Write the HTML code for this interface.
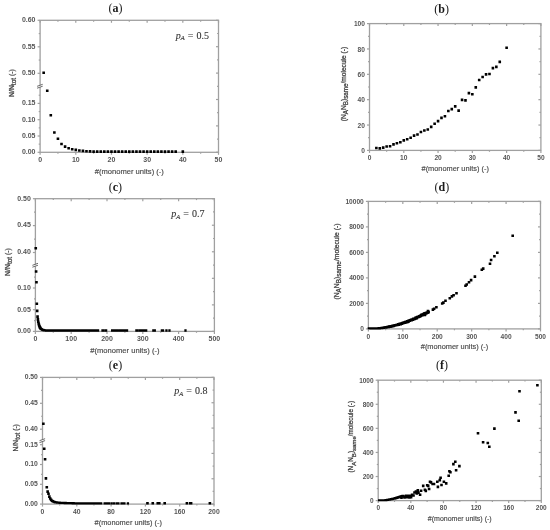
<!DOCTYPE html>
<html><head><meta charset="utf-8"><title>Figure</title>
<style>html,body{margin:0;padding:0;background:#fff;} svg{display:block;}</style>
</head><body>
<svg width="550" height="530" viewBox="0 0 550 530"><rect x="40.1" y="20.3" width="178.40" height="132.00" fill="none" stroke="#a0a0a0" stroke-width="1.3"/>
<line x1="40.10" y1="152.30" x2="40.10" y2="154.80" stroke="#a0a0a0" stroke-width="1.2"/>
<line x1="40.10" y1="20.30" x2="40.10" y2="22.80" stroke="#a0a0a0" stroke-width="1.2"/>
<text x="40.10" y="162.10" font-size="7.0" text-anchor="middle" font-family="'Liberation Sans', Arial, sans-serif" fill="#555555" font-weight="bold">0</text>
<line x1="57.94" y1="152.30" x2="57.94" y2="153.70" stroke="#a0a0a0" stroke-width="1.2"/>
<line x1="57.94" y1="20.30" x2="57.94" y2="21.70" stroke="#a0a0a0" stroke-width="1.2"/>
<line x1="75.78" y1="152.30" x2="75.78" y2="154.80" stroke="#a0a0a0" stroke-width="1.2"/>
<line x1="75.78" y1="20.30" x2="75.78" y2="22.80" stroke="#a0a0a0" stroke-width="1.2"/>
<text x="75.78" y="162.10" font-size="7.0" text-anchor="middle" font-family="'Liberation Sans', Arial, sans-serif" fill="#555555" font-weight="bold">10</text>
<line x1="93.62" y1="152.30" x2="93.62" y2="153.70" stroke="#a0a0a0" stroke-width="1.2"/>
<line x1="93.62" y1="20.30" x2="93.62" y2="21.70" stroke="#a0a0a0" stroke-width="1.2"/>
<line x1="111.46" y1="152.30" x2="111.46" y2="154.80" stroke="#a0a0a0" stroke-width="1.2"/>
<line x1="111.46" y1="20.30" x2="111.46" y2="22.80" stroke="#a0a0a0" stroke-width="1.2"/>
<text x="111.46" y="162.10" font-size="7.0" text-anchor="middle" font-family="'Liberation Sans', Arial, sans-serif" fill="#555555" font-weight="bold">20</text>
<line x1="129.30" y1="152.30" x2="129.30" y2="153.70" stroke="#a0a0a0" stroke-width="1.2"/>
<line x1="129.30" y1="20.30" x2="129.30" y2="21.70" stroke="#a0a0a0" stroke-width="1.2"/>
<line x1="147.14" y1="152.30" x2="147.14" y2="154.80" stroke="#a0a0a0" stroke-width="1.2"/>
<line x1="147.14" y1="20.30" x2="147.14" y2="22.80" stroke="#a0a0a0" stroke-width="1.2"/>
<text x="147.14" y="162.10" font-size="7.0" text-anchor="middle" font-family="'Liberation Sans', Arial, sans-serif" fill="#555555" font-weight="bold">30</text>
<line x1="164.98" y1="152.30" x2="164.98" y2="153.70" stroke="#a0a0a0" stroke-width="1.2"/>
<line x1="164.98" y1="20.30" x2="164.98" y2="21.70" stroke="#a0a0a0" stroke-width="1.2"/>
<line x1="182.82" y1="152.30" x2="182.82" y2="154.80" stroke="#a0a0a0" stroke-width="1.2"/>
<line x1="182.82" y1="20.30" x2="182.82" y2="22.80" stroke="#a0a0a0" stroke-width="1.2"/>
<text x="182.82" y="162.10" font-size="7.0" text-anchor="middle" font-family="'Liberation Sans', Arial, sans-serif" fill="#555555" font-weight="bold">40</text>
<line x1="200.66" y1="152.30" x2="200.66" y2="153.70" stroke="#a0a0a0" stroke-width="1.2"/>
<line x1="200.66" y1="20.30" x2="200.66" y2="21.70" stroke="#a0a0a0" stroke-width="1.2"/>
<line x1="218.50" y1="152.30" x2="218.50" y2="154.80" stroke="#a0a0a0" stroke-width="1.2"/>
<line x1="218.50" y1="20.30" x2="218.50" y2="22.80" stroke="#a0a0a0" stroke-width="1.2"/>
<text x="218.50" y="162.10" font-size="7.0" text-anchor="middle" font-family="'Liberation Sans', Arial, sans-serif" fill="#555555" font-weight="bold">50</text>
<line x1="37.60" y1="20.30" x2="40.10" y2="20.30" stroke="#a0a0a0" stroke-width="1.2"/>
<text x="35.50" y="22.10" font-size="7.0" text-anchor="end" font-family="'Liberation Sans', Arial, sans-serif" fill="#555555" font-weight="bold">0.60</text>
<line x1="38.70" y1="33.55" x2="40.10" y2="33.55" stroke="#a0a0a0" stroke-width="1.2"/>
<line x1="37.60" y1="46.80" x2="40.10" y2="46.80" stroke="#a0a0a0" stroke-width="1.2"/>
<text x="35.50" y="48.60" font-size="7.0" text-anchor="end" font-family="'Liberation Sans', Arial, sans-serif" fill="#555555" font-weight="bold">0.55</text>
<line x1="38.70" y1="60.05" x2="40.10" y2="60.05" stroke="#a0a0a0" stroke-width="1.2"/>
<line x1="37.60" y1="73.30" x2="40.10" y2="73.30" stroke="#a0a0a0" stroke-width="1.2"/>
<text x="35.50" y="75.10" font-size="7.0" text-anchor="end" font-family="'Liberation Sans', Arial, sans-serif" fill="#555555" font-weight="bold">0.50</text>
<line x1="37.60" y1="152.30" x2="40.10" y2="152.30" stroke="#a0a0a0" stroke-width="1.2"/>
<text x="35.50" y="154.10" font-size="7.0" text-anchor="end" font-family="'Liberation Sans', Arial, sans-serif" fill="#555555" font-weight="bold">0.00</text>
<line x1="38.70" y1="144.15" x2="40.10" y2="144.15" stroke="#a0a0a0" stroke-width="1.2"/>
<line x1="37.60" y1="136.00" x2="40.10" y2="136.00" stroke="#a0a0a0" stroke-width="1.2"/>
<text x="35.50" y="137.80" font-size="7.0" text-anchor="end" font-family="'Liberation Sans', Arial, sans-serif" fill="#555555" font-weight="bold">0.05</text>
<line x1="38.70" y1="127.85" x2="40.10" y2="127.85" stroke="#a0a0a0" stroke-width="1.2"/>
<line x1="37.60" y1="119.70" x2="40.10" y2="119.70" stroke="#a0a0a0" stroke-width="1.2"/>
<text x="35.50" y="121.50" font-size="7.0" text-anchor="end" font-family="'Liberation Sans', Arial, sans-serif" fill="#555555" font-weight="bold">0.10</text>
<line x1="38.70" y1="111.55" x2="40.10" y2="111.55" stroke="#a0a0a0" stroke-width="1.2"/>
<line x1="37.60" y1="103.40" x2="40.10" y2="103.40" stroke="#a0a0a0" stroke-width="1.2"/>
<text x="35.50" y="105.20" font-size="7.0" text-anchor="end" font-family="'Liberation Sans', Arial, sans-serif" fill="#555555" font-weight="bold">0.15</text>
<line x1="38.70" y1="95.25" x2="40.10" y2="95.25" stroke="#a0a0a0" stroke-width="1.2"/>
<line x1="216.00" y1="20.30" x2="218.50" y2="20.30" stroke="#a0a0a0" stroke-width="1.2"/>
<line x1="217.10" y1="33.50" x2="218.50" y2="33.50" stroke="#a0a0a0" stroke-width="1.2"/>
<line x1="216.00" y1="46.70" x2="218.50" y2="46.70" stroke="#a0a0a0" stroke-width="1.2"/>
<line x1="217.10" y1="59.90" x2="218.50" y2="59.90" stroke="#a0a0a0" stroke-width="1.2"/>
<line x1="216.00" y1="73.10" x2="218.50" y2="73.10" stroke="#a0a0a0" stroke-width="1.2"/>
<line x1="217.10" y1="86.30" x2="218.50" y2="86.30" stroke="#a0a0a0" stroke-width="1.2"/>
<line x1="216.00" y1="99.50" x2="218.50" y2="99.50" stroke="#a0a0a0" stroke-width="1.2"/>
<line x1="217.10" y1="112.70" x2="218.50" y2="112.70" stroke="#a0a0a0" stroke-width="1.2"/>
<line x1="216.00" y1="125.90" x2="218.50" y2="125.90" stroke="#a0a0a0" stroke-width="1.2"/>
<line x1="217.10" y1="139.10" x2="218.50" y2="139.10" stroke="#a0a0a0" stroke-width="1.2"/>
<line x1="216.00" y1="152.30" x2="218.50" y2="152.30" stroke="#a0a0a0" stroke-width="1.2"/>
<polygon points="39.10,85.90 41.10,85.20 41.10,86.80 39.10,87.50" fill="#fff"/>
<line x1="37.10" y1="86.30" x2="42.70" y2="84.30" stroke="#6a6a6a" stroke-width="1.0"/>
<line x1="37.10" y1="88.20" x2="42.70" y2="86.20" stroke="#6a6a6a" stroke-width="1.0"/>
<text x="115.5" y="12.3" font-size="12.0" text-anchor="middle" font-family="'Liberation Serif', 'Times New Roman', serif" fill="#1a1a1a">(<tspan font-weight="bold">a</tspan>)</text>
<text x="129.30" y="174.10" font-size="7.6" text-anchor="middle" font-family="'Liberation Sans', Arial, sans-serif" fill="#4a4a4a" stroke="#4a4a4a" stroke-width="0.15">#(monomer units) (-)</text>
<text transform="translate(13.8,83.05) rotate(-90)" x="0" y="0" font-size="6.88" text-anchor="middle" font-family="'Liberation Sans', Arial, sans-serif" fill="#3c3c3c" stroke="#3c3c3c" stroke-width="0.25">N/N<tspan font-size="95%" dy="2.2">tot</tspan><tspan dy="-2.2"> (-)</tspan></text>
<text y="38.7" font-size="10" font-family="'Liberation Serif', 'Times New Roman', serif" fill="#333" stroke="#333" stroke-width="0.1"><tspan x="175.70" font-style="italic">p</tspan><tspan x="180.60" font-style="italic" font-size="7" dy="1.7">A</tspan><tspan x="187.80" dy="-1.7">=</tspan><tspan x="196.40">0.5</tspan></text>
<path d="M42.37 71.50h2.60v2.60h-2.60zM45.94 89.50h2.60v2.60h-2.60zM49.50 114.00h2.60v2.60h-2.60zM53.07 131.20h2.60v2.60h-2.60zM56.64 137.50h2.60v2.60h-2.60zM60.21 142.70h2.60v2.60h-2.60zM63.78 145.30h2.60v2.60h-2.60zM67.34 147.00h2.60v2.60h-2.60zM70.91 147.90h2.60v2.60h-2.60zM74.48 148.60h2.60v2.60h-2.60zM78.05 149.20h2.60v2.60h-2.60zM81.62 149.60h2.60v2.60h-2.60zM85.18 149.90h2.60v2.60h-2.60zM88.75 150.10h2.60v2.60h-2.60zM92.32 150.30h2.60v2.60h-2.60zM95.89 150.30h2.60v2.60h-2.60zM99.46 150.30h2.60v2.60h-2.60zM103.02 150.30h2.60v2.60h-2.60zM106.59 150.30h2.60v2.60h-2.60zM110.16 150.30h2.60v2.60h-2.60zM113.73 150.30h2.60v2.60h-2.60zM117.30 150.30h2.60v2.60h-2.60zM120.86 150.30h2.60v2.60h-2.60zM124.43 150.30h2.60v2.60h-2.60zM128.00 150.30h2.60v2.60h-2.60zM131.57 150.30h2.60v2.60h-2.60zM135.14 150.30h2.60v2.60h-2.60zM138.70 150.30h2.60v2.60h-2.60zM142.27 150.30h2.60v2.60h-2.60zM145.84 150.30h2.60v2.60h-2.60zM149.41 150.30h2.60v2.60h-2.60zM152.98 150.30h2.60v2.60h-2.60zM156.54 150.30h2.60v2.60h-2.60zM160.11 150.30h2.60v2.60h-2.60zM163.68 150.30h2.60v2.60h-2.60zM167.25 150.30h2.60v2.60h-2.60zM170.82 150.30h2.60v2.60h-2.60zM174.38 150.30h2.60v2.60h-2.60zM181.52 150.30h2.60v2.60h-2.60z" fill="#000"/>
<rect x="369.5" y="23.6" width="171.40" height="126.80" fill="none" stroke="#a0a0a0" stroke-width="1.3"/>
<line x1="369.50" y1="150.40" x2="369.50" y2="152.90" stroke="#a0a0a0" stroke-width="1.2"/>
<line x1="369.50" y1="23.60" x2="369.50" y2="26.10" stroke="#a0a0a0" stroke-width="1.2"/>
<text x="369.50" y="160.20" font-size="6.6" text-anchor="middle" font-family="'Liberation Sans', Arial, sans-serif" fill="#555555" font-weight="bold">0</text>
<line x1="386.64" y1="150.40" x2="386.64" y2="151.80" stroke="#a0a0a0" stroke-width="1.2"/>
<line x1="386.64" y1="23.60" x2="386.64" y2="25.00" stroke="#a0a0a0" stroke-width="1.2"/>
<line x1="403.78" y1="150.40" x2="403.78" y2="152.90" stroke="#a0a0a0" stroke-width="1.2"/>
<line x1="403.78" y1="23.60" x2="403.78" y2="26.10" stroke="#a0a0a0" stroke-width="1.2"/>
<text x="403.78" y="160.20" font-size="6.6" text-anchor="middle" font-family="'Liberation Sans', Arial, sans-serif" fill="#555555" font-weight="bold">10</text>
<line x1="420.92" y1="150.40" x2="420.92" y2="151.80" stroke="#a0a0a0" stroke-width="1.2"/>
<line x1="420.92" y1="23.60" x2="420.92" y2="25.00" stroke="#a0a0a0" stroke-width="1.2"/>
<line x1="438.06" y1="150.40" x2="438.06" y2="152.90" stroke="#a0a0a0" stroke-width="1.2"/>
<line x1="438.06" y1="23.60" x2="438.06" y2="26.10" stroke="#a0a0a0" stroke-width="1.2"/>
<text x="438.06" y="160.20" font-size="6.6" text-anchor="middle" font-family="'Liberation Sans', Arial, sans-serif" fill="#555555" font-weight="bold">20</text>
<line x1="455.20" y1="150.40" x2="455.20" y2="151.80" stroke="#a0a0a0" stroke-width="1.2"/>
<line x1="455.20" y1="23.60" x2="455.20" y2="25.00" stroke="#a0a0a0" stroke-width="1.2"/>
<line x1="472.34" y1="150.40" x2="472.34" y2="152.90" stroke="#a0a0a0" stroke-width="1.2"/>
<line x1="472.34" y1="23.60" x2="472.34" y2="26.10" stroke="#a0a0a0" stroke-width="1.2"/>
<text x="472.34" y="160.20" font-size="6.6" text-anchor="middle" font-family="'Liberation Sans', Arial, sans-serif" fill="#555555" font-weight="bold">30</text>
<line x1="489.48" y1="150.40" x2="489.48" y2="151.80" stroke="#a0a0a0" stroke-width="1.2"/>
<line x1="489.48" y1="23.60" x2="489.48" y2="25.00" stroke="#a0a0a0" stroke-width="1.2"/>
<line x1="506.62" y1="150.40" x2="506.62" y2="152.90" stroke="#a0a0a0" stroke-width="1.2"/>
<line x1="506.62" y1="23.60" x2="506.62" y2="26.10" stroke="#a0a0a0" stroke-width="1.2"/>
<text x="506.62" y="160.20" font-size="6.6" text-anchor="middle" font-family="'Liberation Sans', Arial, sans-serif" fill="#555555" font-weight="bold">40</text>
<line x1="523.76" y1="150.40" x2="523.76" y2="151.80" stroke="#a0a0a0" stroke-width="1.2"/>
<line x1="523.76" y1="23.60" x2="523.76" y2="25.00" stroke="#a0a0a0" stroke-width="1.2"/>
<line x1="540.90" y1="150.40" x2="540.90" y2="152.90" stroke="#a0a0a0" stroke-width="1.2"/>
<line x1="540.90" y1="23.60" x2="540.90" y2="26.10" stroke="#a0a0a0" stroke-width="1.2"/>
<text x="540.90" y="160.20" font-size="6.6" text-anchor="middle" font-family="'Liberation Sans', Arial, sans-serif" fill="#555555" font-weight="bold">50</text>
<line x1="367.00" y1="150.40" x2="369.50" y2="150.40" stroke="#a0a0a0" stroke-width="1.2"/>
<text x="364.90" y="153.00" font-size="6.6" text-anchor="end" font-family="'Liberation Sans', Arial, sans-serif" fill="#555555" font-weight="bold">0</text>
<line x1="368.10" y1="137.72" x2="369.50" y2="137.72" stroke="#a0a0a0" stroke-width="1.2"/>
<line x1="367.00" y1="125.04" x2="369.50" y2="125.04" stroke="#a0a0a0" stroke-width="1.2"/>
<text x="364.90" y="127.64" font-size="6.6" text-anchor="end" font-family="'Liberation Sans', Arial, sans-serif" fill="#555555" font-weight="bold">20</text>
<line x1="368.10" y1="112.36" x2="369.50" y2="112.36" stroke="#a0a0a0" stroke-width="1.2"/>
<line x1="367.00" y1="99.68" x2="369.50" y2="99.68" stroke="#a0a0a0" stroke-width="1.2"/>
<text x="364.90" y="102.28" font-size="6.6" text-anchor="end" font-family="'Liberation Sans', Arial, sans-serif" fill="#555555" font-weight="bold">40</text>
<line x1="368.10" y1="87.00" x2="369.50" y2="87.00" stroke="#a0a0a0" stroke-width="1.2"/>
<line x1="367.00" y1="74.32" x2="369.50" y2="74.32" stroke="#a0a0a0" stroke-width="1.2"/>
<text x="364.90" y="76.92" font-size="6.6" text-anchor="end" font-family="'Liberation Sans', Arial, sans-serif" fill="#555555" font-weight="bold">60</text>
<line x1="368.10" y1="61.64" x2="369.50" y2="61.64" stroke="#a0a0a0" stroke-width="1.2"/>
<line x1="367.00" y1="48.96" x2="369.50" y2="48.96" stroke="#a0a0a0" stroke-width="1.2"/>
<text x="364.90" y="51.56" font-size="6.6" text-anchor="end" font-family="'Liberation Sans', Arial, sans-serif" fill="#555555" font-weight="bold">80</text>
<line x1="368.10" y1="36.28" x2="369.50" y2="36.28" stroke="#a0a0a0" stroke-width="1.2"/>
<line x1="367.00" y1="23.60" x2="369.50" y2="23.60" stroke="#a0a0a0" stroke-width="1.2"/>
<text x="364.90" y="26.20" font-size="6.6" text-anchor="end" font-family="'Liberation Sans', Arial, sans-serif" fill="#555555" font-weight="bold">100</text>
<line x1="538.40" y1="23.60" x2="540.90" y2="23.60" stroke="#a0a0a0" stroke-width="1.2"/>
<line x1="539.50" y1="36.28" x2="540.90" y2="36.28" stroke="#a0a0a0" stroke-width="1.2"/>
<line x1="538.40" y1="48.96" x2="540.90" y2="48.96" stroke="#a0a0a0" stroke-width="1.2"/>
<line x1="539.50" y1="61.64" x2="540.90" y2="61.64" stroke="#a0a0a0" stroke-width="1.2"/>
<line x1="538.40" y1="74.32" x2="540.90" y2="74.32" stroke="#a0a0a0" stroke-width="1.2"/>
<line x1="539.50" y1="87.00" x2="540.90" y2="87.00" stroke="#a0a0a0" stroke-width="1.2"/>
<line x1="538.40" y1="99.68" x2="540.90" y2="99.68" stroke="#a0a0a0" stroke-width="1.2"/>
<line x1="539.50" y1="112.36" x2="540.90" y2="112.36" stroke="#a0a0a0" stroke-width="1.2"/>
<line x1="538.40" y1="125.04" x2="540.90" y2="125.04" stroke="#a0a0a0" stroke-width="1.2"/>
<line x1="539.50" y1="137.72" x2="540.90" y2="137.72" stroke="#a0a0a0" stroke-width="1.2"/>
<line x1="538.40" y1="150.40" x2="540.90" y2="150.40" stroke="#a0a0a0" stroke-width="1.2"/>
<text x="441.6" y="12.6" font-size="12.0" text-anchor="middle" font-family="'Liberation Serif', 'Times New Roman', serif" fill="#1a1a1a">(<tspan font-weight="bold">b</tspan>)</text>
<text x="455.20" y="171.20" font-size="7.4" text-anchor="middle" font-family="'Liberation Sans', Arial, sans-serif" fill="#4a4a4a" stroke="#4a4a4a" stroke-width="0.15">#(monomer units) (-)</text>
<text transform="translate(345.8,84.0) rotate(-90)" x="0" y="0" font-size="6.6" text-anchor="middle" font-family="'Liberation Sans', Arial, sans-serif" fill="#3c3c3c" stroke="#3c3c3c" stroke-width="0.25">(N<tspan font-size="95%" dy="2.2">A</tspan><tspan dy="-2.2">N</tspan><tspan font-size="95%" dy="2.2">B</tspan><tspan dy="-2.2">)</tspan><tspan font-size="95%" dy="2.2">same</tspan><tspan dy="-2.2">/molecule (-)</tspan></text>
<path d="M375.06 146.70h2.60v2.60h-2.60zM378.48 147.10h2.60v2.60h-2.60zM381.91 146.30h2.60v2.60h-2.60zM385.34 145.20h2.60v2.60h-2.60zM388.77 145.00h2.60v2.60h-2.60zM392.20 143.10h2.60v2.60h-2.60zM395.62 142.00h2.60v2.60h-2.60zM399.05 140.90h2.60v2.60h-2.60zM402.48 139.10h2.60v2.60h-2.60zM405.91 138.00h2.60v2.60h-2.60zM409.34 136.50h2.60v2.60h-2.60zM412.76 134.30h2.60v2.60h-2.60zM416.19 133.20h2.60v2.60h-2.60zM419.62 130.70h2.60v2.60h-2.60zM423.05 129.20h2.60v2.60h-2.60zM426.48 128.20h2.60v2.60h-2.60zM429.90 125.60h2.60v2.60h-2.60zM433.33 122.40h2.60v2.60h-2.60zM436.76 119.80h2.60v2.60h-2.60zM440.19 116.60h2.60v2.60h-2.60zM443.62 114.90h2.60v2.60h-2.60zM447.04 109.70h2.60v2.60h-2.60zM450.47 107.80h2.60v2.60h-2.60zM453.90 105.10h2.60v2.60h-2.60zM457.33 109.30h2.60v2.60h-2.60zM460.76 98.60h2.60v2.60h-2.60zM464.18 99.10h2.60v2.60h-2.60zM467.61 91.80h2.60v2.60h-2.60zM471.04 93.00h2.60v2.60h-2.60zM474.47 86.10h2.60v2.60h-2.60zM477.90 78.70h2.60v2.60h-2.60zM481.32 75.70h2.60v2.60h-2.60zM484.75 73.10h2.60v2.60h-2.60zM488.18 72.70h2.60v2.60h-2.60zM491.61 66.80h2.60v2.60h-2.60zM495.04 65.60h2.60v2.60h-2.60zM498.46 60.60h2.60v2.60h-2.60zM505.32 46.50h2.60v2.60h-2.60z" fill="#000"/>
<rect x="35.4" y="198.7" width="179.00" height="132.70" fill="none" stroke="#a0a0a0" stroke-width="1.3"/>
<line x1="35.40" y1="331.40" x2="35.40" y2="333.90" stroke="#a0a0a0" stroke-width="1.2"/>
<line x1="35.40" y1="198.70" x2="35.40" y2="201.20" stroke="#a0a0a0" stroke-width="1.2"/>
<text x="35.40" y="341.30" font-size="7.0" text-anchor="middle" font-family="'Liberation Sans', Arial, sans-serif" fill="#555555" font-weight="bold">0</text>
<line x1="53.30" y1="331.40" x2="53.30" y2="332.80" stroke="#a0a0a0" stroke-width="1.2"/>
<line x1="53.30" y1="198.70" x2="53.30" y2="200.10" stroke="#a0a0a0" stroke-width="1.2"/>
<line x1="71.20" y1="331.40" x2="71.20" y2="333.90" stroke="#a0a0a0" stroke-width="1.2"/>
<line x1="71.20" y1="198.70" x2="71.20" y2="201.20" stroke="#a0a0a0" stroke-width="1.2"/>
<text x="71.20" y="341.30" font-size="7.0" text-anchor="middle" font-family="'Liberation Sans', Arial, sans-serif" fill="#555555" font-weight="bold">100</text>
<line x1="89.10" y1="331.40" x2="89.10" y2="332.80" stroke="#a0a0a0" stroke-width="1.2"/>
<line x1="89.10" y1="198.70" x2="89.10" y2="200.10" stroke="#a0a0a0" stroke-width="1.2"/>
<line x1="107.00" y1="331.40" x2="107.00" y2="333.90" stroke="#a0a0a0" stroke-width="1.2"/>
<line x1="107.00" y1="198.70" x2="107.00" y2="201.20" stroke="#a0a0a0" stroke-width="1.2"/>
<text x="107.00" y="341.30" font-size="7.0" text-anchor="middle" font-family="'Liberation Sans', Arial, sans-serif" fill="#555555" font-weight="bold">200</text>
<line x1="124.90" y1="331.40" x2="124.90" y2="332.80" stroke="#a0a0a0" stroke-width="1.2"/>
<line x1="124.90" y1="198.70" x2="124.90" y2="200.10" stroke="#a0a0a0" stroke-width="1.2"/>
<line x1="142.80" y1="331.40" x2="142.80" y2="333.90" stroke="#a0a0a0" stroke-width="1.2"/>
<line x1="142.80" y1="198.70" x2="142.80" y2="201.20" stroke="#a0a0a0" stroke-width="1.2"/>
<text x="142.80" y="341.30" font-size="7.0" text-anchor="middle" font-family="'Liberation Sans', Arial, sans-serif" fill="#555555" font-weight="bold">300</text>
<line x1="160.70" y1="331.40" x2="160.70" y2="332.80" stroke="#a0a0a0" stroke-width="1.2"/>
<line x1="160.70" y1="198.70" x2="160.70" y2="200.10" stroke="#a0a0a0" stroke-width="1.2"/>
<line x1="178.60" y1="331.40" x2="178.60" y2="333.90" stroke="#a0a0a0" stroke-width="1.2"/>
<line x1="178.60" y1="198.70" x2="178.60" y2="201.20" stroke="#a0a0a0" stroke-width="1.2"/>
<text x="178.60" y="341.30" font-size="7.0" text-anchor="middle" font-family="'Liberation Sans', Arial, sans-serif" fill="#555555" font-weight="bold">400</text>
<line x1="196.50" y1="331.40" x2="196.50" y2="332.80" stroke="#a0a0a0" stroke-width="1.2"/>
<line x1="196.50" y1="198.70" x2="196.50" y2="200.10" stroke="#a0a0a0" stroke-width="1.2"/>
<line x1="214.40" y1="331.40" x2="214.40" y2="333.90" stroke="#a0a0a0" stroke-width="1.2"/>
<line x1="214.40" y1="198.70" x2="214.40" y2="201.20" stroke="#a0a0a0" stroke-width="1.2"/>
<text x="214.40" y="341.30" font-size="7.0" text-anchor="middle" font-family="'Liberation Sans', Arial, sans-serif" fill="#555555" font-weight="bold">500</text>
<line x1="32.90" y1="198.70" x2="35.40" y2="198.70" stroke="#a0a0a0" stroke-width="1.2"/>
<text x="30.80" y="200.50" font-size="7.0" text-anchor="end" font-family="'Liberation Sans', Arial, sans-serif" fill="#555555" font-weight="bold">0.50</text>
<line x1="34.00" y1="212.15" x2="35.40" y2="212.15" stroke="#a0a0a0" stroke-width="1.2"/>
<line x1="32.90" y1="225.60" x2="35.40" y2="225.60" stroke="#a0a0a0" stroke-width="1.2"/>
<text x="30.80" y="227.40" font-size="7.0" text-anchor="end" font-family="'Liberation Sans', Arial, sans-serif" fill="#555555" font-weight="bold">0.45</text>
<line x1="34.00" y1="239.05" x2="35.40" y2="239.05" stroke="#a0a0a0" stroke-width="1.2"/>
<line x1="32.90" y1="252.50" x2="35.40" y2="252.50" stroke="#a0a0a0" stroke-width="1.2"/>
<text x="30.80" y="254.30" font-size="7.0" text-anchor="end" font-family="'Liberation Sans', Arial, sans-serif" fill="#555555" font-weight="bold">0.40</text>
<line x1="32.90" y1="331.40" x2="35.40" y2="331.40" stroke="#a0a0a0" stroke-width="1.2"/>
<text x="30.80" y="333.20" font-size="7.0" text-anchor="end" font-family="'Liberation Sans', Arial, sans-serif" fill="#555555" font-weight="bold">0.00</text>
<line x1="34.00" y1="320.55" x2="35.40" y2="320.55" stroke="#a0a0a0" stroke-width="1.2"/>
<line x1="32.90" y1="309.70" x2="35.40" y2="309.70" stroke="#a0a0a0" stroke-width="1.2"/>
<text x="30.80" y="311.50" font-size="7.0" text-anchor="end" font-family="'Liberation Sans', Arial, sans-serif" fill="#555555" font-weight="bold">0.05</text>
<line x1="34.00" y1="298.85" x2="35.40" y2="298.85" stroke="#a0a0a0" stroke-width="1.2"/>
<line x1="32.90" y1="288.00" x2="35.40" y2="288.00" stroke="#a0a0a0" stroke-width="1.2"/>
<text x="30.80" y="289.80" font-size="7.0" text-anchor="end" font-family="'Liberation Sans', Arial, sans-serif" fill="#555555" font-weight="bold">0.10</text>
<line x1="34.00" y1="277.15" x2="35.40" y2="277.15" stroke="#a0a0a0" stroke-width="1.2"/>
<line x1="211.90" y1="198.70" x2="214.40" y2="198.70" stroke="#a0a0a0" stroke-width="1.2"/>
<line x1="213.00" y1="211.97" x2="214.40" y2="211.97" stroke="#a0a0a0" stroke-width="1.2"/>
<line x1="211.90" y1="225.24" x2="214.40" y2="225.24" stroke="#a0a0a0" stroke-width="1.2"/>
<line x1="213.00" y1="238.51" x2="214.40" y2="238.51" stroke="#a0a0a0" stroke-width="1.2"/>
<line x1="211.90" y1="251.78" x2="214.40" y2="251.78" stroke="#a0a0a0" stroke-width="1.2"/>
<line x1="213.00" y1="265.05" x2="214.40" y2="265.05" stroke="#a0a0a0" stroke-width="1.2"/>
<line x1="211.90" y1="278.32" x2="214.40" y2="278.32" stroke="#a0a0a0" stroke-width="1.2"/>
<line x1="213.00" y1="291.59" x2="214.40" y2="291.59" stroke="#a0a0a0" stroke-width="1.2"/>
<line x1="211.90" y1="304.86" x2="214.40" y2="304.86" stroke="#a0a0a0" stroke-width="1.2"/>
<line x1="213.00" y1="318.13" x2="214.40" y2="318.13" stroke="#a0a0a0" stroke-width="1.2"/>
<line x1="211.90" y1="331.40" x2="214.40" y2="331.40" stroke="#a0a0a0" stroke-width="1.2"/>
<polygon points="34.40,264.90 36.40,264.20 36.40,265.80 34.40,266.50" fill="#fff"/>
<line x1="32.40" y1="265.30" x2="38.00" y2="263.30" stroke="#6a6a6a" stroke-width="1.0"/>
<line x1="32.40" y1="267.20" x2="38.00" y2="265.20" stroke="#6a6a6a" stroke-width="1.0"/>
<text x="115.3" y="190.5" font-size="12.0" text-anchor="middle" font-family="'Liberation Serif', 'Times New Roman', serif" fill="#1a1a1a">(<tspan font-weight="bold">c</tspan>)</text>
<text x="124.90" y="353.20" font-size="7.6" text-anchor="middle" font-family="'Liberation Sans', Arial, sans-serif" fill="#4a4a4a" stroke="#4a4a4a" stroke-width="0.15">#(monomer units) (-)</text>
<text transform="translate(9.6,262.0) rotate(-90)" x="0" y="0" font-size="6.86" text-anchor="middle" font-family="'Liberation Sans', Arial, sans-serif" fill="#3c3c3c" stroke="#3c3c3c" stroke-width="0.25">N/N<tspan font-size="95%" dy="2.2">tot</tspan><tspan dy="-2.2"> (-)</tspan></text>
<text y="217.3" font-size="10" font-family="'Liberation Serif', 'Times New Roman', serif" fill="#333" stroke="#333" stroke-width="0.1"><tspan x="171.20" font-style="italic">p</tspan><tspan x="176.10" font-style="italic" font-size="7" dy="1.7">A</tspan><tspan x="183.30" dy="-1.7">=</tspan><tspan x="191.90">0.7</tspan></text>
<path d="M34.46 246.90h2.60v2.60h-2.60zM34.82 270.20h2.60v2.60h-2.60zM35.17 281.00h2.60v2.60h-2.60zM35.53 302.40h2.60v2.60h-2.60zM35.89 309.60h2.60v2.60h-2.60zM36.25 315.30h2.60v2.60h-2.60zM36.61 318.07h2.60v2.60h-2.60zM36.96 320.38h2.60v2.60h-2.60zM37.32 322.18h2.60v2.60h-2.60zM37.68 323.60h2.60v2.60h-2.60zM38.04 324.72h2.60v2.60h-2.60zM38.40 325.60h2.60v2.60h-2.60zM38.75 326.29h2.60v2.60h-2.60zM39.11 326.84h2.60v2.60h-2.60z" fill="#000"/>
<path d="M39.62 327.43h2.30v2.30h-2.30zM39.98 327.78h2.30v2.30h-2.30zM40.34 328.06h2.30v2.30h-2.30zM40.69 328.29h2.30v2.30h-2.30zM41.05 328.48h2.30v2.30h-2.30zM41.41 328.63h2.30v2.30h-2.30zM41.77 328.76h2.30v2.30h-2.30zM42.13 328.87h2.30v2.30h-2.30zM42.48 328.96h2.30v2.30h-2.30zM42.84 329.03h2.30v2.30h-2.30zM43.20 329.10h2.30v2.30h-2.30zM43.56 329.16h2.30v2.30h-2.30zM43.92 329.21h2.30v2.30h-2.30zM44.27 329.26h2.30v2.30h-2.30zM44.63 329.30h2.30v2.30h-2.30zM44.99 329.34h2.30v2.30h-2.30zM45.35 329.35h2.30v2.30h-2.30zM45.71 329.35h2.30v2.30h-2.30zM46.06 329.35h2.30v2.30h-2.30zM46.42 329.35h2.30v2.30h-2.30zM46.78 329.35h2.30v2.30h-2.30zM47.14 329.35h2.30v2.30h-2.30zM47.50 329.35h2.30v2.30h-2.30zM47.85 329.35h2.30v2.30h-2.30zM48.21 329.35h2.30v2.30h-2.30zM48.57 329.35h2.30v2.30h-2.30zM48.93 329.35h2.30v2.30h-2.30zM49.29 329.35h2.30v2.30h-2.30zM49.64 329.35h2.30v2.30h-2.30zM50.00 329.35h2.30v2.30h-2.30zM50.36 329.35h2.30v2.30h-2.30zM50.72 329.35h2.30v2.30h-2.30zM51.08 329.35h2.30v2.30h-2.30zM51.43 329.35h2.30v2.30h-2.30zM51.79 329.35h2.30v2.30h-2.30zM52.15 329.35h2.30v2.30h-2.30zM52.51 329.35h2.30v2.30h-2.30zM52.87 329.35h2.30v2.30h-2.30zM53.22 329.35h2.30v2.30h-2.30zM53.58 329.35h2.30v2.30h-2.30zM53.94 329.35h2.30v2.30h-2.30zM54.30 329.35h2.30v2.30h-2.30zM54.66 329.35h2.30v2.30h-2.30zM55.01 329.35h2.30v2.30h-2.30zM55.37 329.35h2.30v2.30h-2.30zM55.73 329.35h2.30v2.30h-2.30zM56.09 329.35h2.30v2.30h-2.30zM56.45 329.35h2.30v2.30h-2.30zM56.80 329.35h2.30v2.30h-2.30zM57.16 329.35h2.30v2.30h-2.30zM57.52 329.35h2.30v2.30h-2.30zM57.88 329.35h2.30v2.30h-2.30zM58.24 329.35h2.30v2.30h-2.30zM58.59 329.35h2.30v2.30h-2.30zM58.95 329.35h2.30v2.30h-2.30zM59.31 329.35h2.30v2.30h-2.30zM59.67 329.35h2.30v2.30h-2.30zM60.03 329.35h2.30v2.30h-2.30zM60.38 329.35h2.30v2.30h-2.30zM60.74 329.35h2.30v2.30h-2.30zM61.10 329.35h2.30v2.30h-2.30zM61.46 329.35h2.30v2.30h-2.30zM61.82 329.35h2.30v2.30h-2.30zM62.17 329.35h2.30v2.30h-2.30zM62.53 329.35h2.30v2.30h-2.30zM62.89 329.35h2.30v2.30h-2.30zM63.25 329.35h2.30v2.30h-2.30zM63.61 329.35h2.30v2.30h-2.30zM63.96 329.35h2.30v2.30h-2.30zM64.32 329.35h2.30v2.30h-2.30zM64.68 329.35h2.30v2.30h-2.30zM65.04 329.35h2.30v2.30h-2.30zM65.40 329.35h2.30v2.30h-2.30zM65.75 329.35h2.30v2.30h-2.30zM66.11 329.35h2.30v2.30h-2.30zM66.47 329.35h2.30v2.30h-2.30zM66.83 329.35h2.30v2.30h-2.30zM67.19 329.35h2.30v2.30h-2.30zM67.54 329.35h2.30v2.30h-2.30zM67.90 329.35h2.30v2.30h-2.30zM68.26 329.35h2.30v2.30h-2.30zM68.62 329.35h2.30v2.30h-2.30zM68.98 329.35h2.30v2.30h-2.30zM69.33 329.35h2.30v2.30h-2.30zM69.69 329.35h2.30v2.30h-2.30zM70.05 329.35h2.30v2.30h-2.30zM70.41 329.35h2.30v2.30h-2.30zM70.77 329.35h2.30v2.30h-2.30zM71.12 329.35h2.30v2.30h-2.30zM71.48 329.35h2.30v2.30h-2.30zM71.84 329.35h2.30v2.30h-2.30zM72.20 329.35h2.30v2.30h-2.30zM72.56 329.35h2.30v2.30h-2.30zM72.91 329.35h2.30v2.30h-2.30zM73.27 329.35h2.30v2.30h-2.30zM73.63 329.35h2.30v2.30h-2.30zM73.99 329.35h2.30v2.30h-2.30zM74.35 329.35h2.30v2.30h-2.30zM74.70 329.35h2.30v2.30h-2.30zM75.06 329.35h2.30v2.30h-2.30zM75.42 329.35h2.30v2.30h-2.30zM75.78 329.35h2.30v2.30h-2.30zM76.14 329.35h2.30v2.30h-2.30zM76.49 329.35h2.30v2.30h-2.30zM76.85 329.35h2.30v2.30h-2.30zM77.21 329.35h2.30v2.30h-2.30zM77.57 329.35h2.30v2.30h-2.30zM77.93 329.35h2.30v2.30h-2.30zM78.28 329.35h2.30v2.30h-2.30zM78.64 329.35h2.30v2.30h-2.30zM79.00 329.35h2.30v2.30h-2.30zM79.36 329.35h2.30v2.30h-2.30zM79.72 329.35h2.30v2.30h-2.30zM80.07 329.35h2.30v2.30h-2.30zM80.43 329.35h2.30v2.30h-2.30zM80.79 329.35h2.30v2.30h-2.30zM81.15 329.35h2.30v2.30h-2.30zM81.51 329.35h2.30v2.30h-2.30zM81.86 329.35h2.30v2.30h-2.30zM82.22 329.35h2.30v2.30h-2.30zM82.58 329.35h2.30v2.30h-2.30zM82.94 329.35h2.30v2.30h-2.30zM83.30 329.35h2.30v2.30h-2.30zM83.65 329.35h2.30v2.30h-2.30zM84.01 329.35h2.30v2.30h-2.30zM84.37 329.35h2.30v2.30h-2.30zM84.73 329.35h2.30v2.30h-2.30zM85.09 329.35h2.30v2.30h-2.30zM85.44 329.35h2.30v2.30h-2.30zM85.80 329.35h2.30v2.30h-2.30zM86.16 329.35h2.30v2.30h-2.30zM86.52 329.35h2.30v2.30h-2.30zM86.88 329.35h2.30v2.30h-2.30zM87.23 329.35h2.30v2.30h-2.30zM87.59 329.35h2.30v2.30h-2.30zM87.95 329.35h2.30v2.30h-2.30zM88.31 329.35h2.30v2.30h-2.30zM88.67 329.35h2.30v2.30h-2.30zM89.02 329.35h2.30v2.30h-2.30zM89.38 329.35h2.30v2.30h-2.30zM89.74 329.35h2.30v2.30h-2.30zM90.10 329.35h2.30v2.30h-2.30zM90.46 329.35h2.30v2.30h-2.30zM90.81 329.35h2.30v2.30h-2.30zM91.17 329.35h2.30v2.30h-2.30zM91.53 329.35h2.30v2.30h-2.30zM91.89 329.35h2.30v2.30h-2.30zM92.25 329.35h2.30v2.30h-2.30zM92.60 329.35h2.30v2.30h-2.30zM92.96 329.35h2.30v2.30h-2.30zM93.32 329.35h2.30v2.30h-2.30zM93.68 329.35h2.30v2.30h-2.30zM94.04 329.35h2.30v2.30h-2.30zM94.39 329.35h2.30v2.30h-2.30zM94.75 329.35h2.30v2.30h-2.30zM95.11 329.35h2.30v2.30h-2.30zM95.47 329.35h2.30v2.30h-2.30zM95.83 329.35h2.30v2.30h-2.30zM96.18 329.35h2.30v2.30h-2.30zM96.54 329.35h2.30v2.30h-2.30zM96.90 329.35h2.30v2.30h-2.30zM184.34 329.35h2.30v2.30h-2.30zM168.32 329.35h2.30v2.30h-2.30zM165.30 329.35h2.30v2.30h-2.30zM161.87 329.35h2.30v2.30h-2.30zM160.73 329.35h2.30v2.30h-2.30zM152.20 329.35h2.30v2.30h-2.30zM153.65 329.35h2.30v2.30h-2.30zM145.02 329.35h2.30v2.30h-2.30zM141.07 329.35h2.30v2.30h-2.30zM138.88 329.35h2.30v2.30h-2.30zM135.24 329.35h2.30v2.30h-2.30zM136.49 329.35h2.30v2.30h-2.30zM125.88 329.35h2.30v2.30h-2.30zM122.87 329.35h2.30v2.30h-2.30zM121.10 329.35h2.30v2.30h-2.30zM118.91 329.35h2.30v2.30h-2.30zM114.44 329.35h2.30v2.30h-2.30zM111.01 329.35h2.30v2.30h-2.30zM112.26 329.35h2.30v2.30h-2.30zM104.98 329.35h2.30v2.30h-2.30zM101.34 329.35h2.30v2.30h-2.30zM102.58 329.35h2.30v2.30h-2.30zM116.59 329.35h2.30v2.30h-2.30zM124.11 329.35h2.30v2.30h-2.30zM142.72 329.35h2.30v2.30h-2.30z" fill="#000"/>
<rect x="368.4" y="201.4" width="172.10" height="127.50" fill="none" stroke="#a0a0a0" stroke-width="1.3"/>
<line x1="368.40" y1="328.90" x2="368.40" y2="331.40" stroke="#a0a0a0" stroke-width="1.2"/>
<line x1="368.40" y1="201.40" x2="368.40" y2="203.90" stroke="#a0a0a0" stroke-width="1.2"/>
<text x="368.40" y="338.60" font-size="6.6" text-anchor="middle" font-family="'Liberation Sans', Arial, sans-serif" fill="#555555" font-weight="bold">0</text>
<line x1="385.61" y1="328.90" x2="385.61" y2="330.30" stroke="#a0a0a0" stroke-width="1.2"/>
<line x1="385.61" y1="201.40" x2="385.61" y2="202.80" stroke="#a0a0a0" stroke-width="1.2"/>
<line x1="402.82" y1="328.90" x2="402.82" y2="331.40" stroke="#a0a0a0" stroke-width="1.2"/>
<line x1="402.82" y1="201.40" x2="402.82" y2="203.90" stroke="#a0a0a0" stroke-width="1.2"/>
<text x="402.82" y="338.60" font-size="6.6" text-anchor="middle" font-family="'Liberation Sans', Arial, sans-serif" fill="#555555" font-weight="bold">100</text>
<line x1="420.03" y1="328.90" x2="420.03" y2="330.30" stroke="#a0a0a0" stroke-width="1.2"/>
<line x1="420.03" y1="201.40" x2="420.03" y2="202.80" stroke="#a0a0a0" stroke-width="1.2"/>
<line x1="437.24" y1="328.90" x2="437.24" y2="331.40" stroke="#a0a0a0" stroke-width="1.2"/>
<line x1="437.24" y1="201.40" x2="437.24" y2="203.90" stroke="#a0a0a0" stroke-width="1.2"/>
<text x="437.24" y="338.60" font-size="6.6" text-anchor="middle" font-family="'Liberation Sans', Arial, sans-serif" fill="#555555" font-weight="bold">200</text>
<line x1="454.45" y1="328.90" x2="454.45" y2="330.30" stroke="#a0a0a0" stroke-width="1.2"/>
<line x1="454.45" y1="201.40" x2="454.45" y2="202.80" stroke="#a0a0a0" stroke-width="1.2"/>
<line x1="471.66" y1="328.90" x2="471.66" y2="331.40" stroke="#a0a0a0" stroke-width="1.2"/>
<line x1="471.66" y1="201.40" x2="471.66" y2="203.90" stroke="#a0a0a0" stroke-width="1.2"/>
<text x="471.66" y="338.60" font-size="6.6" text-anchor="middle" font-family="'Liberation Sans', Arial, sans-serif" fill="#555555" font-weight="bold">300</text>
<line x1="488.87" y1="328.90" x2="488.87" y2="330.30" stroke="#a0a0a0" stroke-width="1.2"/>
<line x1="488.87" y1="201.40" x2="488.87" y2="202.80" stroke="#a0a0a0" stroke-width="1.2"/>
<line x1="506.08" y1="328.90" x2="506.08" y2="331.40" stroke="#a0a0a0" stroke-width="1.2"/>
<line x1="506.08" y1="201.40" x2="506.08" y2="203.90" stroke="#a0a0a0" stroke-width="1.2"/>
<text x="506.08" y="338.60" font-size="6.6" text-anchor="middle" font-family="'Liberation Sans', Arial, sans-serif" fill="#555555" font-weight="bold">400</text>
<line x1="523.29" y1="328.90" x2="523.29" y2="330.30" stroke="#a0a0a0" stroke-width="1.2"/>
<line x1="523.29" y1="201.40" x2="523.29" y2="202.80" stroke="#a0a0a0" stroke-width="1.2"/>
<line x1="540.50" y1="328.90" x2="540.50" y2="331.40" stroke="#a0a0a0" stroke-width="1.2"/>
<line x1="540.50" y1="201.40" x2="540.50" y2="203.90" stroke="#a0a0a0" stroke-width="1.2"/>
<text x="540.50" y="338.60" font-size="6.6" text-anchor="middle" font-family="'Liberation Sans', Arial, sans-serif" fill="#555555" font-weight="bold">500</text>
<line x1="365.90" y1="328.90" x2="368.40" y2="328.90" stroke="#a0a0a0" stroke-width="1.2"/>
<text x="363.80" y="331.30" font-size="6.6" text-anchor="end" font-family="'Liberation Sans', Arial, sans-serif" fill="#555555" font-weight="bold">0</text>
<line x1="367.00" y1="316.15" x2="368.40" y2="316.15" stroke="#a0a0a0" stroke-width="1.2"/>
<line x1="365.90" y1="303.40" x2="368.40" y2="303.40" stroke="#a0a0a0" stroke-width="1.2"/>
<text x="363.80" y="305.80" font-size="6.6" text-anchor="end" font-family="'Liberation Sans', Arial, sans-serif" fill="#555555" font-weight="bold">2000</text>
<line x1="367.00" y1="290.65" x2="368.40" y2="290.65" stroke="#a0a0a0" stroke-width="1.2"/>
<line x1="365.90" y1="277.90" x2="368.40" y2="277.90" stroke="#a0a0a0" stroke-width="1.2"/>
<text x="363.80" y="280.30" font-size="6.6" text-anchor="end" font-family="'Liberation Sans', Arial, sans-serif" fill="#555555" font-weight="bold">4000</text>
<line x1="367.00" y1="265.15" x2="368.40" y2="265.15" stroke="#a0a0a0" stroke-width="1.2"/>
<line x1="365.90" y1="252.40" x2="368.40" y2="252.40" stroke="#a0a0a0" stroke-width="1.2"/>
<text x="363.80" y="254.80" font-size="6.6" text-anchor="end" font-family="'Liberation Sans', Arial, sans-serif" fill="#555555" font-weight="bold">6000</text>
<line x1="367.00" y1="239.65" x2="368.40" y2="239.65" stroke="#a0a0a0" stroke-width="1.2"/>
<line x1="365.90" y1="226.90" x2="368.40" y2="226.90" stroke="#a0a0a0" stroke-width="1.2"/>
<text x="363.80" y="229.30" font-size="6.6" text-anchor="end" font-family="'Liberation Sans', Arial, sans-serif" fill="#555555" font-weight="bold">8000</text>
<line x1="367.00" y1="214.15" x2="368.40" y2="214.15" stroke="#a0a0a0" stroke-width="1.2"/>
<line x1="365.90" y1="201.40" x2="368.40" y2="201.40" stroke="#a0a0a0" stroke-width="1.2"/>
<text x="363.80" y="203.80" font-size="6.6" text-anchor="end" font-family="'Liberation Sans', Arial, sans-serif" fill="#555555" font-weight="bold">10000</text>
<line x1="538.00" y1="201.40" x2="540.50" y2="201.40" stroke="#a0a0a0" stroke-width="1.2"/>
<line x1="539.10" y1="214.15" x2="540.50" y2="214.15" stroke="#a0a0a0" stroke-width="1.2"/>
<line x1="538.00" y1="226.90" x2="540.50" y2="226.90" stroke="#a0a0a0" stroke-width="1.2"/>
<line x1="539.10" y1="239.65" x2="540.50" y2="239.65" stroke="#a0a0a0" stroke-width="1.2"/>
<line x1="538.00" y1="252.40" x2="540.50" y2="252.40" stroke="#a0a0a0" stroke-width="1.2"/>
<line x1="539.10" y1="265.15" x2="540.50" y2="265.15" stroke="#a0a0a0" stroke-width="1.2"/>
<line x1="538.00" y1="277.90" x2="540.50" y2="277.90" stroke="#a0a0a0" stroke-width="1.2"/>
<line x1="539.10" y1="290.65" x2="540.50" y2="290.65" stroke="#a0a0a0" stroke-width="1.2"/>
<line x1="538.00" y1="303.40" x2="540.50" y2="303.40" stroke="#a0a0a0" stroke-width="1.2"/>
<line x1="539.10" y1="316.15" x2="540.50" y2="316.15" stroke="#a0a0a0" stroke-width="1.2"/>
<line x1="538.00" y1="328.90" x2="540.50" y2="328.90" stroke="#a0a0a0" stroke-width="1.2"/>
<text x="441.9" y="190.7" font-size="12.0" text-anchor="middle" font-family="'Liberation Serif', 'Times New Roman', serif" fill="#1a1a1a">(<tspan font-weight="bold">d</tspan>)</text>
<text x="454.45" y="349.20" font-size="7.4" text-anchor="middle" font-family="'Liberation Sans', Arial, sans-serif" fill="#4a4a4a" stroke="#4a4a4a" stroke-width="0.15">#(monomer units) (-)</text>
<text transform="translate(338.6,261.6) rotate(-90)" x="0" y="0" font-size="6.76" text-anchor="middle" font-family="'Liberation Sans', Arial, sans-serif" fill="#3c3c3c" stroke="#3c3c3c" stroke-width="0.25">(N<tspan font-size="95%" dy="2.2">A</tspan><tspan dy="-2.2">N</tspan><tspan font-size="95%" dy="2.2">B</tspan><tspan dy="-2.2">)</tspan><tspan font-size="95%" dy="2.2">same</tspan><tspan dy="-2.2">/molecule (-)</tspan></text>
<path d="M387.75 325.39h2.60v2.60h-2.60zM388.10 325.45h2.60v2.60h-2.60zM388.44 325.31h2.60v2.60h-2.60zM388.78 325.22h2.60v2.60h-2.60zM389.13 325.29h2.60v2.60h-2.60zM389.47 325.10h2.60v2.60h-2.60zM389.82 324.93h2.60v2.60h-2.60zM390.16 325.12h2.60v2.60h-2.60zM390.51 324.91h2.60v2.60h-2.60zM390.85 324.81h2.60v2.60h-2.60zM391.19 324.79h2.60v2.60h-2.60zM391.54 324.60h2.60v2.60h-2.60zM391.88 324.57h2.60v2.60h-2.60zM392.23 324.61h2.60v2.60h-2.60zM392.57 324.31h2.60v2.60h-2.60zM392.91 324.24h2.60v2.60h-2.60zM393.26 324.13h2.60v2.60h-2.60zM393.60 323.99h2.60v2.60h-2.60zM393.95 324.01h2.60v2.60h-2.60zM394.29 323.95h2.60v2.60h-2.60zM394.64 324.01h2.60v2.60h-2.60zM394.98 323.71h2.60v2.60h-2.60zM395.32 323.76h2.60v2.60h-2.60zM395.67 323.65h2.60v2.60h-2.60zM396.01 323.65h2.60v2.60h-2.60zM396.36 323.52h2.60v2.60h-2.60zM396.70 323.37h2.60v2.60h-2.60zM397.05 323.04h2.60v2.60h-2.60zM397.39 323.38h2.60v2.60h-2.60zM397.73 323.21h2.60v2.60h-2.60zM398.08 322.88h2.60v2.60h-2.60zM398.42 322.60h2.60v2.60h-2.60zM398.77 322.62h2.60v2.60h-2.60zM399.11 322.89h2.60v2.60h-2.60zM399.45 322.88h2.60v2.60h-2.60zM399.80 322.33h2.60v2.60h-2.60zM400.14 322.40h2.60v2.60h-2.60zM400.49 322.36h2.60v2.60h-2.60zM400.83 321.90h2.60v2.60h-2.60zM401.18 321.77h2.60v2.60h-2.60zM401.52 321.82h2.60v2.60h-2.60zM401.86 321.69h2.60v2.60h-2.60zM402.21 321.54h2.60v2.60h-2.60zM402.55 321.21h2.60v2.60h-2.60zM402.90 321.27h2.60v2.60h-2.60zM403.24 321.17h2.60v2.60h-2.60zM403.59 321.05h2.60v2.60h-2.60zM403.93 321.34h2.60v2.60h-2.60zM404.27 320.66h2.60v2.60h-2.60zM404.62 320.60h2.60v2.60h-2.60zM404.96 320.56h2.60v2.60h-2.60zM405.31 320.97h2.60v2.60h-2.60zM405.65 320.56h2.60v2.60h-2.60zM405.99 320.12h2.60v2.60h-2.60zM406.34 320.58h2.60v2.60h-2.60zM406.68 320.09h2.60v2.60h-2.60zM407.03 319.68h2.60v2.60h-2.60zM407.37 320.10h2.60v2.60h-2.60zM407.72 319.28h2.60v2.60h-2.60zM408.06 319.40h2.60v2.60h-2.60zM408.40 319.43h2.60v2.60h-2.60zM408.75 319.18h2.60v2.60h-2.60zM409.09 318.96h2.60v2.60h-2.60zM409.44 318.96h2.60v2.60h-2.60zM409.78 318.56h2.60v2.60h-2.60zM410.12 318.90h2.60v2.60h-2.60zM410.47 318.69h2.60v2.60h-2.60zM410.81 318.15h2.60v2.60h-2.60zM411.16 318.29h2.60v2.60h-2.60zM411.50 318.41h2.60v2.60h-2.60zM411.85 317.74h2.60v2.60h-2.60zM412.19 317.44h2.60v2.60h-2.60zM412.53 317.86h2.60v2.60h-2.60zM412.88 318.00h2.60v2.60h-2.60zM413.22 317.48h2.60v2.60h-2.60zM413.57 317.33h2.60v2.60h-2.60zM413.91 317.23h2.60v2.60h-2.60zM414.26 316.54h2.60v2.60h-2.60zM414.60 317.17h2.60v2.60h-2.60zM414.94 316.27h2.60v2.60h-2.60zM415.29 316.95h2.60v2.60h-2.60zM415.63 316.64h2.60v2.60h-2.60zM415.98 316.01h2.60v2.60h-2.60zM416.32 315.68h2.60v2.60h-2.60zM416.66 315.61h2.60v2.60h-2.60zM417.01 315.63h2.60v2.60h-2.60zM417.35 315.54h2.60v2.60h-2.60zM417.70 315.38h2.60v2.60h-2.60zM418.04 315.06h2.60v2.60h-2.60zM418.39 315.17h2.60v2.60h-2.60zM418.73 314.84h2.60v2.60h-2.60zM419.07 314.56h2.60v2.60h-2.60zM419.42 314.61h2.60v2.60h-2.60zM419.76 314.15h2.60v2.60h-2.60zM420.11 314.05h2.60v2.60h-2.60zM420.45 313.30h2.60v2.60h-2.60zM420.80 313.81h2.60v2.60h-2.60zM421.14 313.95h2.60v2.60h-2.60zM421.48 313.76h2.60v2.60h-2.60zM421.83 313.43h2.60v2.60h-2.60zM422.17 312.86h2.60v2.60h-2.60zM422.52 313.23h2.60v2.60h-2.60zM422.86 312.73h2.60v2.60h-2.60zM423.20 311.91h2.60v2.60h-2.60zM423.55 313.71h2.60v2.60h-2.60zM423.89 312.88h2.60v2.60h-2.60zM424.24 312.08h2.60v2.60h-2.60zM424.58 311.82h2.60v2.60h-2.60zM424.93 311.71h2.60v2.60h-2.60zM425.27 311.85h2.60v2.60h-2.60zM425.61 311.14h2.60v2.60h-2.60zM425.96 311.14h2.60v2.60h-2.60zM426.30 311.35h2.60v2.60h-2.60zM426.65 309.68h2.60v2.60h-2.60zM426.99 310.53h2.60v2.60h-2.60zM427.33 310.81h2.60v2.60h-2.60zM511.40 234.50h2.60v2.60h-2.60zM496.00 251.40h2.60v2.60h-2.60zM493.10 254.90h2.60v2.60h-2.60zM489.80 258.70h2.60v2.60h-2.60zM488.70 262.50h2.60v2.60h-2.60zM480.50 268.50h2.60v2.60h-2.60zM481.90 267.30h2.60v2.60h-2.60zM473.60 275.30h2.60v2.60h-2.60zM469.80 278.80h2.60v2.60h-2.60zM467.70 280.90h2.60v2.60h-2.60zM464.20 284.40h2.60v2.60h-2.60zM465.40 283.20h2.60v2.60h-2.60zM455.20 291.90h2.60v2.60h-2.60zM452.30 294.00h2.60v2.60h-2.60zM450.60 295.10h2.60v2.60h-2.60zM448.50 296.90h2.60v2.60h-2.60zM444.20 299.50h2.60v2.60h-2.60zM440.90 302.20h2.60v2.60h-2.60zM442.10 301.30h2.60v2.60h-2.60zM435.10 305.90h2.60v2.60h-2.60zM431.60 308.30h2.60v2.60h-2.60zM432.80 307.50h2.60v2.60h-2.60z" fill="#000"/>
<path d="M367.69 327.25h2.11v2.11h-2.11zM368.03 327.24h2.12v2.12h-2.12zM368.37 327.24h2.12v2.12h-2.12zM368.71 327.23h2.13v2.13h-2.13zM369.05 327.23h2.14v2.14h-2.14zM369.39 327.23h2.15v2.15h-2.15zM369.73 327.22h2.16v2.16h-2.16zM370.07 327.22h2.17v2.17h-2.17zM370.41 327.21h2.18v2.18h-2.18zM370.75 327.21h2.18v2.18h-2.18zM371.09 327.20h2.19v2.19h-2.19zM371.43 327.20h2.20v2.20h-2.20zM371.77 327.20h2.21v2.21h-2.21zM372.11 327.19h2.22v2.22h-2.22zM372.45 327.19h2.23v2.23h-2.23zM372.79 327.18h2.23v2.23h-2.23zM373.13 327.18h2.24v2.24h-2.24zM373.47 327.18h2.25v2.25h-2.25zM373.81 327.17h2.26v2.26h-2.26zM374.15 327.17h2.27v2.27h-2.27zM374.49 327.16h2.27v2.27h-2.27zM374.83 327.16h2.28v2.28h-2.28zM375.17 327.15h2.29v2.29h-2.29zM375.51 327.15h2.30v2.30h-2.30zM375.85 327.15h2.31v2.31h-2.31zM376.19 327.14h2.32v2.32h-2.32zM376.53 327.14h2.33v2.33h-2.33zM376.87 327.13h2.33v2.33h-2.33zM377.21 327.13h2.34v2.34h-2.34zM377.55 327.12h2.35v2.35h-2.35zM377.89 327.12h2.36v2.36h-2.36zM378.23 327.08h2.37v2.37h-2.37zM378.57 327.08h2.38v2.38h-2.38zM378.91 326.98h2.38v2.38h-2.38zM379.25 326.94h2.39v2.39h-2.39zM379.59 326.90h2.40v2.40h-2.40zM379.93 326.90h2.41v2.41h-2.41zM380.27 326.86h2.42v2.42h-2.42zM380.61 326.79h2.43v2.43h-2.43zM380.95 326.73h2.43v2.43h-2.43zM381.29 326.65h2.44v2.44h-2.44zM381.63 326.61h2.45v2.45h-2.45zM381.97 326.54h2.46v2.46h-2.46zM382.31 326.52h2.47v2.47h-2.47zM382.65 326.43h2.48v2.48h-2.48zM382.99 326.37h2.48v2.48h-2.48zM383.33 326.35h2.49v2.49h-2.49zM383.67 326.20h2.50v2.50h-2.50zM384.01 326.18h2.51v2.51h-2.51zM384.35 326.09h2.52v2.52h-2.52zM384.69 326.11h2.52v2.52h-2.52zM385.03 326.05h2.53v2.53h-2.53zM385.37 325.97h2.54v2.54h-2.54zM385.71 325.89h2.55v2.55h-2.55zM386.05 325.79h2.56v2.56h-2.56zM386.39 325.74h2.57v2.57h-2.57zM386.73 325.71h2.58v2.58h-2.58zM387.07 325.67h2.58v2.58h-2.58zM387.41 325.57h2.59v2.59h-2.59z" fill="#000"/>
<rect x="42.5" y="377.4" width="171.50" height="126.70" fill="none" stroke="#a0a0a0" stroke-width="1.3"/>
<line x1="42.50" y1="504.10" x2="42.50" y2="506.60" stroke="#a0a0a0" stroke-width="1.2"/>
<line x1="42.50" y1="377.40" x2="42.50" y2="379.90" stroke="#a0a0a0" stroke-width="1.2"/>
<text x="42.50" y="513.60" font-size="6.8" text-anchor="middle" font-family="'Liberation Sans', Arial, sans-serif" fill="#555555" font-weight="bold">0</text>
<line x1="59.65" y1="504.10" x2="59.65" y2="505.50" stroke="#a0a0a0" stroke-width="1.2"/>
<line x1="59.65" y1="377.40" x2="59.65" y2="378.80" stroke="#a0a0a0" stroke-width="1.2"/>
<line x1="76.80" y1="504.10" x2="76.80" y2="506.60" stroke="#a0a0a0" stroke-width="1.2"/>
<line x1="76.80" y1="377.40" x2="76.80" y2="379.90" stroke="#a0a0a0" stroke-width="1.2"/>
<text x="76.80" y="513.60" font-size="6.8" text-anchor="middle" font-family="'Liberation Sans', Arial, sans-serif" fill="#555555" font-weight="bold">40</text>
<line x1="93.95" y1="504.10" x2="93.95" y2="505.50" stroke="#a0a0a0" stroke-width="1.2"/>
<line x1="93.95" y1="377.40" x2="93.95" y2="378.80" stroke="#a0a0a0" stroke-width="1.2"/>
<line x1="111.10" y1="504.10" x2="111.10" y2="506.60" stroke="#a0a0a0" stroke-width="1.2"/>
<line x1="111.10" y1="377.40" x2="111.10" y2="379.90" stroke="#a0a0a0" stroke-width="1.2"/>
<text x="111.10" y="513.60" font-size="6.8" text-anchor="middle" font-family="'Liberation Sans', Arial, sans-serif" fill="#555555" font-weight="bold">80</text>
<line x1="128.25" y1="504.10" x2="128.25" y2="505.50" stroke="#a0a0a0" stroke-width="1.2"/>
<line x1="128.25" y1="377.40" x2="128.25" y2="378.80" stroke="#a0a0a0" stroke-width="1.2"/>
<line x1="145.40" y1="504.10" x2="145.40" y2="506.60" stroke="#a0a0a0" stroke-width="1.2"/>
<line x1="145.40" y1="377.40" x2="145.40" y2="379.90" stroke="#a0a0a0" stroke-width="1.2"/>
<text x="145.40" y="513.60" font-size="6.8" text-anchor="middle" font-family="'Liberation Sans', Arial, sans-serif" fill="#555555" font-weight="bold">120</text>
<line x1="162.55" y1="504.10" x2="162.55" y2="505.50" stroke="#a0a0a0" stroke-width="1.2"/>
<line x1="162.55" y1="377.40" x2="162.55" y2="378.80" stroke="#a0a0a0" stroke-width="1.2"/>
<line x1="179.70" y1="504.10" x2="179.70" y2="506.60" stroke="#a0a0a0" stroke-width="1.2"/>
<line x1="179.70" y1="377.40" x2="179.70" y2="379.90" stroke="#a0a0a0" stroke-width="1.2"/>
<text x="179.70" y="513.60" font-size="6.8" text-anchor="middle" font-family="'Liberation Sans', Arial, sans-serif" fill="#555555" font-weight="bold">160</text>
<line x1="196.85" y1="504.10" x2="196.85" y2="505.50" stroke="#a0a0a0" stroke-width="1.2"/>
<line x1="196.85" y1="377.40" x2="196.85" y2="378.80" stroke="#a0a0a0" stroke-width="1.2"/>
<line x1="214.00" y1="504.10" x2="214.00" y2="506.60" stroke="#a0a0a0" stroke-width="1.2"/>
<line x1="214.00" y1="377.40" x2="214.00" y2="379.90" stroke="#a0a0a0" stroke-width="1.2"/>
<text x="214.00" y="513.60" font-size="6.8" text-anchor="middle" font-family="'Liberation Sans', Arial, sans-serif" fill="#555555" font-weight="bold">200</text>
<line x1="40.00" y1="377.40" x2="42.50" y2="377.40" stroke="#a0a0a0" stroke-width="1.2"/>
<text x="37.90" y="379.20" font-size="6.8" text-anchor="end" font-family="'Liberation Sans', Arial, sans-serif" fill="#555555" font-weight="bold">0.50</text>
<line x1="41.10" y1="390.35" x2="42.50" y2="390.35" stroke="#a0a0a0" stroke-width="1.2"/>
<line x1="40.00" y1="403.30" x2="42.50" y2="403.30" stroke="#a0a0a0" stroke-width="1.2"/>
<text x="37.90" y="405.10" font-size="6.8" text-anchor="end" font-family="'Liberation Sans', Arial, sans-serif" fill="#555555" font-weight="bold">0.45</text>
<line x1="41.10" y1="416.25" x2="42.50" y2="416.25" stroke="#a0a0a0" stroke-width="1.2"/>
<line x1="40.00" y1="429.20" x2="42.50" y2="429.20" stroke="#a0a0a0" stroke-width="1.2"/>
<text x="37.90" y="431.00" font-size="6.8" text-anchor="end" font-family="'Liberation Sans', Arial, sans-serif" fill="#555555" font-weight="bold">0.40</text>
<line x1="40.00" y1="504.10" x2="42.50" y2="504.10" stroke="#a0a0a0" stroke-width="1.2"/>
<text x="37.90" y="505.90" font-size="6.8" text-anchor="end" font-family="'Liberation Sans', Arial, sans-serif" fill="#555555" font-weight="bold">0.00</text>
<line x1="41.10" y1="494.20" x2="42.50" y2="494.20" stroke="#a0a0a0" stroke-width="1.2"/>
<line x1="40.00" y1="484.30" x2="42.50" y2="484.30" stroke="#a0a0a0" stroke-width="1.2"/>
<text x="37.90" y="486.10" font-size="6.8" text-anchor="end" font-family="'Liberation Sans', Arial, sans-serif" fill="#555555" font-weight="bold">0.05</text>
<line x1="41.10" y1="474.40" x2="42.50" y2="474.40" stroke="#a0a0a0" stroke-width="1.2"/>
<line x1="40.00" y1="464.50" x2="42.50" y2="464.50" stroke="#a0a0a0" stroke-width="1.2"/>
<text x="37.90" y="466.30" font-size="6.8" text-anchor="end" font-family="'Liberation Sans', Arial, sans-serif" fill="#555555" font-weight="bold">0.10</text>
<line x1="41.10" y1="454.60" x2="42.50" y2="454.60" stroke="#a0a0a0" stroke-width="1.2"/>
<line x1="40.00" y1="444.70" x2="42.50" y2="444.70" stroke="#a0a0a0" stroke-width="1.2"/>
<text x="37.90" y="446.50" font-size="6.8" text-anchor="end" font-family="'Liberation Sans', Arial, sans-serif" fill="#555555" font-weight="bold">0.15</text>
<line x1="211.50" y1="377.40" x2="214.00" y2="377.40" stroke="#a0a0a0" stroke-width="1.2"/>
<line x1="212.60" y1="390.07" x2="214.00" y2="390.07" stroke="#a0a0a0" stroke-width="1.2"/>
<line x1="211.50" y1="402.74" x2="214.00" y2="402.74" stroke="#a0a0a0" stroke-width="1.2"/>
<line x1="212.60" y1="415.41" x2="214.00" y2="415.41" stroke="#a0a0a0" stroke-width="1.2"/>
<line x1="211.50" y1="428.08" x2="214.00" y2="428.08" stroke="#a0a0a0" stroke-width="1.2"/>
<line x1="212.60" y1="440.75" x2="214.00" y2="440.75" stroke="#a0a0a0" stroke-width="1.2"/>
<line x1="211.50" y1="453.42" x2="214.00" y2="453.42" stroke="#a0a0a0" stroke-width="1.2"/>
<line x1="212.60" y1="466.09" x2="214.00" y2="466.09" stroke="#a0a0a0" stroke-width="1.2"/>
<line x1="211.50" y1="478.76" x2="214.00" y2="478.76" stroke="#a0a0a0" stroke-width="1.2"/>
<line x1="212.60" y1="491.43" x2="214.00" y2="491.43" stroke="#a0a0a0" stroke-width="1.2"/>
<line x1="211.50" y1="504.10" x2="214.00" y2="504.10" stroke="#a0a0a0" stroke-width="1.2"/>
<polygon points="41.50,440.30 43.50,439.60 43.50,441.20 41.50,441.90" fill="#fff"/>
<line x1="39.50" y1="440.70" x2="45.10" y2="438.70" stroke="#6a6a6a" stroke-width="1.0"/>
<line x1="39.50" y1="442.60" x2="45.10" y2="440.60" stroke="#6a6a6a" stroke-width="1.0"/>
<text x="115.5" y="368.9" font-size="12.0" text-anchor="middle" font-family="'Liberation Serif', 'Times New Roman', serif" fill="#1a1a1a">(<tspan font-weight="bold">e</tspan>)</text>
<text x="128.25" y="525.20" font-size="7.4" text-anchor="middle" font-family="'Liberation Sans', Arial, sans-serif" fill="#4a4a4a" stroke="#4a4a4a" stroke-width="0.15">#(monomer units) (-)</text>
<text transform="translate(17.6,437.75) rotate(-90)" x="0" y="0" font-size="6.73" text-anchor="middle" font-family="'Liberation Sans', Arial, sans-serif" fill="#3c3c3c" stroke="#3c3c3c" stroke-width="0.25">N/N<tspan font-size="95%" dy="2.2">tot</tspan><tspan dy="-2.2"> (-)</tspan></text>
<text y="393.8" font-size="10" font-family="'Liberation Serif', 'Times New Roman', serif" fill="#333" stroke="#333" stroke-width="0.1"><tspan x="174.20" font-style="italic">p</tspan><tspan x="179.10" font-style="italic" font-size="7" dy="1.7">A</tspan><tspan x="186.30" dy="-1.7">=</tspan><tspan x="194.90">0.8</tspan></text>
<path d="M42.06 422.50h2.60v2.60h-2.60zM42.92 447.50h2.60v2.60h-2.60zM43.77 457.90h2.60v2.60h-2.60zM44.63 477.10h2.60v2.60h-2.60zM45.49 485.90h2.60v2.60h-2.60zM46.34 490.30h2.60v2.60h-2.60zM47.20 492.49h2.60v2.60h-2.60zM48.06 495.31h2.60v2.60h-2.60zM48.92 497.21h2.60v2.60h-2.60zM49.78 498.51h2.60v2.60h-2.60zM50.63 499.39h2.60v2.60h-2.60zM51.49 500.00h2.60v2.60h-2.60zM146.16 502.00h2.60v2.60h-2.60zM151.47 502.00h2.60v2.60h-2.60zM156.45 502.00h2.60v2.60h-2.60zM157.99 502.00h2.60v2.60h-2.60zM163.39 502.00h2.60v2.60h-2.60zM185.60 502.00h2.60v2.60h-2.60zM188.95 502.00h2.60v2.60h-2.60zM189.80 502.00h2.60v2.60h-2.60zM208.58 502.00h2.60v2.60h-2.60z" fill="#000"/>
<path d="M52.50 500.57h2.30v2.30h-2.30zM53.36 500.86h2.30v2.30h-2.30zM54.21 501.08h2.30v2.30h-2.30zM55.07 501.23h2.30v2.30h-2.30zM55.93 501.35h2.30v2.30h-2.30zM56.79 501.44h2.30v2.30h-2.30zM57.64 501.52h2.30v2.30h-2.30zM58.50 501.58h2.30v2.30h-2.30zM59.36 501.63h2.30v2.30h-2.30zM60.21 501.68h2.30v2.30h-2.30zM61.07 501.72h2.30v2.30h-2.30zM61.93 501.76h2.30v2.30h-2.30zM62.79 501.79h2.30v2.30h-2.30zM63.65 501.83h2.30v2.30h-2.30zM64.50 501.86h2.30v2.30h-2.30zM65.36 501.89h2.30v2.30h-2.30zM66.22 501.92h2.30v2.30h-2.30zM67.07 501.95h2.30v2.30h-2.30zM67.76 501.97h2.30v2.30h-2.30zM69.05 502.02h2.30v2.30h-2.30zM70.50 502.06h2.30v2.30h-2.30zM71.62 502.09h2.30v2.30h-2.30zM72.48 502.12h2.30v2.30h-2.30zM74.28 502.15h2.30v2.30h-2.30zM74.96 502.15h2.30v2.30h-2.30zM75.91 502.15h2.30v2.30h-2.30zM77.02 502.15h2.30v2.30h-2.30zM78.48 502.15h2.30v2.30h-2.30zM79.51 502.15h2.30v2.30h-2.30zM80.97 502.15h2.30v2.30h-2.30zM81.91 502.15h2.30v2.30h-2.30zM83.02 502.15h2.30v2.30h-2.30zM83.71 502.15h2.30v2.30h-2.30zM85.43 502.15h2.30v2.30h-2.30zM86.45 502.15h2.30v2.30h-2.30zM88.68 502.15h2.30v2.30h-2.30zM90.48 502.15h2.30v2.30h-2.30zM91.43 502.15h2.30v2.30h-2.30zM92.89 502.15h2.30v2.30h-2.30zM93.91 502.15h2.30v2.30h-2.30zM94.86 502.15h2.30v2.30h-2.30zM95.80 502.15h2.30v2.30h-2.30zM96.83 502.15h2.30v2.30h-2.30zM98.55 502.15h2.30v2.30h-2.30zM100.00 502.15h2.30v2.30h-2.30zM103.52 502.15h2.30v2.30h-2.30zM104.12 502.15h2.30v2.30h-2.30zM106.09 502.15h2.30v2.30h-2.30zM106.95 502.15h2.30v2.30h-2.30zM107.89 502.15h2.30v2.30h-2.30zM110.46 502.15h2.30v2.30h-2.30zM112.87 502.15h2.30v2.30h-2.30zM115.52 502.15h2.30v2.30h-2.30zM116.21 502.15h2.30v2.30h-2.30zM117.24 502.15h2.30v2.30h-2.30zM120.41 502.15h2.30v2.30h-2.30zM122.38 502.15h2.30v2.30h-2.30zM123.24 502.15h2.30v2.30h-2.30zM126.76 502.15h2.30v2.30h-2.30z" fill="#000"/>
<rect x="378.2" y="380.2" width="163.10" height="120.40" fill="none" stroke="#a0a0a0" stroke-width="1.3"/>
<line x1="378.20" y1="500.60" x2="378.20" y2="503.10" stroke="#a0a0a0" stroke-width="1.2"/>
<line x1="378.20" y1="380.20" x2="378.20" y2="382.70" stroke="#a0a0a0" stroke-width="1.2"/>
<text x="378.20" y="510.00" font-size="6.5" text-anchor="middle" font-family="'Liberation Sans', Arial, sans-serif" fill="#555555" font-weight="bold">0</text>
<line x1="394.51" y1="500.60" x2="394.51" y2="502.00" stroke="#a0a0a0" stroke-width="1.2"/>
<line x1="394.51" y1="380.20" x2="394.51" y2="381.60" stroke="#a0a0a0" stroke-width="1.2"/>
<line x1="410.82" y1="500.60" x2="410.82" y2="503.10" stroke="#a0a0a0" stroke-width="1.2"/>
<line x1="410.82" y1="380.20" x2="410.82" y2="382.70" stroke="#a0a0a0" stroke-width="1.2"/>
<text x="410.82" y="510.00" font-size="6.5" text-anchor="middle" font-family="'Liberation Sans', Arial, sans-serif" fill="#555555" font-weight="bold">40</text>
<line x1="427.13" y1="500.60" x2="427.13" y2="502.00" stroke="#a0a0a0" stroke-width="1.2"/>
<line x1="427.13" y1="380.20" x2="427.13" y2="381.60" stroke="#a0a0a0" stroke-width="1.2"/>
<line x1="443.44" y1="500.60" x2="443.44" y2="503.10" stroke="#a0a0a0" stroke-width="1.2"/>
<line x1="443.44" y1="380.20" x2="443.44" y2="382.70" stroke="#a0a0a0" stroke-width="1.2"/>
<text x="443.44" y="510.00" font-size="6.5" text-anchor="middle" font-family="'Liberation Sans', Arial, sans-serif" fill="#555555" font-weight="bold">80</text>
<line x1="459.75" y1="500.60" x2="459.75" y2="502.00" stroke="#a0a0a0" stroke-width="1.2"/>
<line x1="459.75" y1="380.20" x2="459.75" y2="381.60" stroke="#a0a0a0" stroke-width="1.2"/>
<line x1="476.06" y1="500.60" x2="476.06" y2="503.10" stroke="#a0a0a0" stroke-width="1.2"/>
<line x1="476.06" y1="380.20" x2="476.06" y2="382.70" stroke="#a0a0a0" stroke-width="1.2"/>
<text x="476.06" y="510.00" font-size="6.5" text-anchor="middle" font-family="'Liberation Sans', Arial, sans-serif" fill="#555555" font-weight="bold">120</text>
<line x1="492.37" y1="500.60" x2="492.37" y2="502.00" stroke="#a0a0a0" stroke-width="1.2"/>
<line x1="492.37" y1="380.20" x2="492.37" y2="381.60" stroke="#a0a0a0" stroke-width="1.2"/>
<line x1="508.68" y1="500.60" x2="508.68" y2="503.10" stroke="#a0a0a0" stroke-width="1.2"/>
<line x1="508.68" y1="380.20" x2="508.68" y2="382.70" stroke="#a0a0a0" stroke-width="1.2"/>
<text x="508.68" y="510.00" font-size="6.5" text-anchor="middle" font-family="'Liberation Sans', Arial, sans-serif" fill="#555555" font-weight="bold">160</text>
<line x1="524.99" y1="500.60" x2="524.99" y2="502.00" stroke="#a0a0a0" stroke-width="1.2"/>
<line x1="524.99" y1="380.20" x2="524.99" y2="381.60" stroke="#a0a0a0" stroke-width="1.2"/>
<line x1="541.30" y1="500.60" x2="541.30" y2="503.10" stroke="#a0a0a0" stroke-width="1.2"/>
<line x1="541.30" y1="380.20" x2="541.30" y2="382.70" stroke="#a0a0a0" stroke-width="1.2"/>
<text x="541.30" y="510.00" font-size="6.5" text-anchor="middle" font-family="'Liberation Sans', Arial, sans-serif" fill="#555555" font-weight="bold">200</text>
<line x1="375.70" y1="500.60" x2="378.20" y2="500.60" stroke="#a0a0a0" stroke-width="1.2"/>
<text x="373.60" y="502.90" font-size="6.5" text-anchor="end" font-family="'Liberation Sans', Arial, sans-serif" fill="#555555" font-weight="bold">0</text>
<line x1="376.80" y1="488.56" x2="378.20" y2="488.56" stroke="#a0a0a0" stroke-width="1.2"/>
<line x1="375.70" y1="476.52" x2="378.20" y2="476.52" stroke="#a0a0a0" stroke-width="1.2"/>
<text x="373.60" y="478.82" font-size="6.5" text-anchor="end" font-family="'Liberation Sans', Arial, sans-serif" fill="#555555" font-weight="bold">200</text>
<line x1="376.80" y1="464.48" x2="378.20" y2="464.48" stroke="#a0a0a0" stroke-width="1.2"/>
<line x1="375.70" y1="452.44" x2="378.20" y2="452.44" stroke="#a0a0a0" stroke-width="1.2"/>
<text x="373.60" y="454.74" font-size="6.5" text-anchor="end" font-family="'Liberation Sans', Arial, sans-serif" fill="#555555" font-weight="bold">400</text>
<line x1="376.80" y1="440.40" x2="378.20" y2="440.40" stroke="#a0a0a0" stroke-width="1.2"/>
<line x1="375.70" y1="428.36" x2="378.20" y2="428.36" stroke="#a0a0a0" stroke-width="1.2"/>
<text x="373.60" y="430.66" font-size="6.5" text-anchor="end" font-family="'Liberation Sans', Arial, sans-serif" fill="#555555" font-weight="bold">600</text>
<line x1="376.80" y1="416.32" x2="378.20" y2="416.32" stroke="#a0a0a0" stroke-width="1.2"/>
<line x1="375.70" y1="404.28" x2="378.20" y2="404.28" stroke="#a0a0a0" stroke-width="1.2"/>
<text x="373.60" y="406.58" font-size="6.5" text-anchor="end" font-family="'Liberation Sans', Arial, sans-serif" fill="#555555" font-weight="bold">800</text>
<line x1="376.80" y1="392.24" x2="378.20" y2="392.24" stroke="#a0a0a0" stroke-width="1.2"/>
<line x1="375.70" y1="380.20" x2="378.20" y2="380.20" stroke="#a0a0a0" stroke-width="1.2"/>
<text x="373.60" y="382.50" font-size="6.5" text-anchor="end" font-family="'Liberation Sans', Arial, sans-serif" fill="#555555" font-weight="bold">1000</text>
<line x1="538.80" y1="380.20" x2="541.30" y2="380.20" stroke="#a0a0a0" stroke-width="1.2"/>
<line x1="539.90" y1="392.24" x2="541.30" y2="392.24" stroke="#a0a0a0" stroke-width="1.2"/>
<line x1="538.80" y1="404.28" x2="541.30" y2="404.28" stroke="#a0a0a0" stroke-width="1.2"/>
<line x1="539.90" y1="416.32" x2="541.30" y2="416.32" stroke="#a0a0a0" stroke-width="1.2"/>
<line x1="538.80" y1="428.36" x2="541.30" y2="428.36" stroke="#a0a0a0" stroke-width="1.2"/>
<line x1="539.90" y1="440.40" x2="541.30" y2="440.40" stroke="#a0a0a0" stroke-width="1.2"/>
<line x1="538.80" y1="452.44" x2="541.30" y2="452.44" stroke="#a0a0a0" stroke-width="1.2"/>
<line x1="539.90" y1="464.48" x2="541.30" y2="464.48" stroke="#a0a0a0" stroke-width="1.2"/>
<line x1="538.80" y1="476.52" x2="541.30" y2="476.52" stroke="#a0a0a0" stroke-width="1.2"/>
<line x1="539.90" y1="488.56" x2="541.30" y2="488.56" stroke="#a0a0a0" stroke-width="1.2"/>
<line x1="538.80" y1="500.60" x2="541.30" y2="500.60" stroke="#a0a0a0" stroke-width="1.2"/>
<text x="442" y="369.2" font-size="12.0" text-anchor="middle" font-family="'Liberation Serif', 'Times New Roman', serif" fill="#1a1a1a">(<tspan font-weight="bold">f</tspan>)</text>
<text x="459.75" y="520.80" font-size="7.0" text-anchor="middle" font-family="'Liberation Sans', Arial, sans-serif" fill="#4a4a4a" stroke="#4a4a4a" stroke-width="0.15">#(monomer units) (-)</text>
<text transform="translate(353.3,436.7) rotate(-90)" x="0" y="0" font-size="6.36" text-anchor="middle" font-family="'Liberation Sans', Arial, sans-serif" fill="#3c3c3c" stroke="#3c3c3c" stroke-width="0.25">(N<tspan font-size="95%" dy="2.2">A</tspan><tspan dy="-2.2">N</tspan><tspan font-size="95%" dy="2.2">B</tspan><tspan dy="-2.2">)</tspan><tspan font-size="95%" dy="2.2">same</tspan><tspan dy="-2.2">/molecule (-)</tspan></text>
<path d="M378.01 499.29h2.02v2.02h-2.02zM378.81 499.28h2.04v2.04h-2.04zM379.62 499.27h2.06v2.06h-2.06zM380.42 499.26h2.08v2.08h-2.08zM381.23 499.25h2.10v2.10h-2.10zM382.03 499.24h2.12v2.12h-2.12zM382.84 499.23h2.14v2.14h-2.14zM383.64 499.14h2.16v2.16h-2.16zM384.45 499.04h2.18v2.18h-2.18zM385.25 498.93h2.20v2.20h-2.20zM386.06 498.80h2.22v2.22h-2.22zM386.87 498.67h2.24v2.24h-2.24zM387.67 498.53h2.26v2.26h-2.26zM388.48 498.37h2.28v2.28h-2.28zM389.28 498.21h2.30v2.30h-2.30zM390.09 498.04h2.32v2.32h-2.32zM390.89 497.86h2.34v2.34h-2.34zM391.70 497.67h2.36v2.36h-2.36zM392.50 497.47h2.38v2.38h-2.38zM393.31 497.26h2.40v2.40h-2.40zM394.12 497.04h2.42v2.42h-2.42zM394.92 496.81h2.44v2.44h-2.44zM395.73 496.58h2.46v2.46h-2.46zM396.53 496.33h2.48v2.48h-2.48zM397.34 496.08h2.50v2.50h-2.50zM398.14 495.81h2.52v2.52h-2.52zM398.95 495.54h2.54v2.54h-2.54zM399.75 495.26h2.56v2.56h-2.56zM400.56 494.97h2.58v2.58h-2.58zM401.36 494.67h2.60v2.60h-2.60zM536.10 384.00h2.60v2.60h-2.60zM518.20 390.00h2.60v2.60h-2.60zM514.20 411.10h2.60v2.60h-2.60zM517.40 419.40h2.60v2.60h-2.60zM493.10 427.30h2.60v2.60h-2.60zM476.70 431.90h2.60v2.60h-2.60zM481.80 441.00h2.60v2.60h-2.60zM486.50 441.70h2.60v2.60h-2.60zM488.00 445.50h2.60v2.60h-2.60zM454.00 460.50h2.60v2.60h-2.60zM452.10 462.80h2.60v2.60h-2.60zM458.10 464.80h2.60v2.60h-2.60zM454.80 468.90h2.60v2.60h-2.60zM448.10 470.00h2.60v2.60h-2.60zM449.10 470.90h2.60v2.60h-2.60zM447.40 474.50h2.60v2.60h-2.60zM439.30 476.50h2.60v2.60h-2.60zM438.50 478.80h2.60v2.60h-2.60zM436.00 480.40h2.60v2.60h-2.60zM442.60 480.40h2.60v2.60h-2.60zM444.90 482.10h2.60v2.60h-2.60zM440.20 483.70h2.60v2.60h-2.60zM436.60 485.60h2.60v2.60h-2.60zM432.70 482.70h2.60v2.60h-2.60zM431.30 482.70h2.60v2.60h-2.60zM429.70 481.10h2.60v2.60h-2.60zM428.70 480.40h2.60v2.60h-2.60zM425.90 483.90h2.60v2.60h-2.60zM426.90 484.60h2.60v2.60h-2.60zM421.90 484.60h2.60v2.60h-2.60zM427.80 487.70h2.60v2.60h-2.60zM423.60 488.40h2.60v2.60h-2.60zM424.50 489.60h2.60v2.60h-2.60zM418.80 493.40h2.60v2.60h-2.60zM419.80 489.40h2.60v2.60h-2.60zM416.50 488.90h2.60v2.60h-2.60zM414.60 490.30h2.60v2.60h-2.60zM413.20 491.20h2.60v2.60h-2.60zM415.50 492.20h2.60v2.60h-2.60zM410.80 493.60h2.60v2.60h-2.60zM408.90 494.60h2.60v2.60h-2.60zM409.80 496.00h2.60v2.60h-2.60zM406.50 494.60h2.60v2.60h-2.60zM404.60 494.60h2.60v2.60h-2.60zM402.00 495.20h2.60v2.60h-2.60zM400.20 496.50h2.60v2.60h-2.60zM403.20 496.20h2.60v2.60h-2.60zM405.70 496.00h2.60v2.60h-2.60zM408.20 496.20h2.60v2.60h-2.60zM412.20 494.20h2.60v2.60h-2.60zM417.20 491.50h2.60v2.60h-2.60z" fill="#000"/></svg>
</body></html>
